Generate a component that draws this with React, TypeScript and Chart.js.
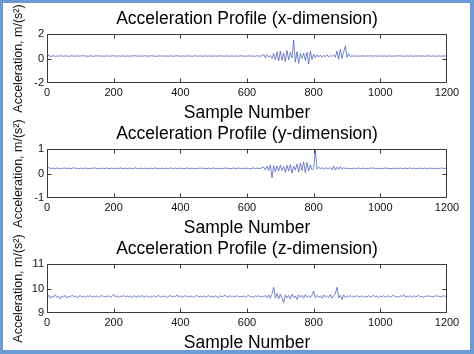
import React, { useEffect, useRef } from "react";
import { Chart, registerables } from "chart.js";

Chart.register(...registerables);

// ---------------- data ----------------
const SAMPLE_STEP = 5; // samples between stored readings
const X_TICKS = [0, 200, 400, 600, 800, 1000, 1200];

const TITLES = [
  "Acceleration Profile (x-dimension)",
  "Acceleration Profile (y-dimension)",
  "Acceleration Profile (z-dimension)",
];
const X_LABEL = "Sample Number";
const Y_LABEL = "Acceleration, m/(s\u00B2)";

const Y_RANGES = [
  { min: -2, max: 2, step: 2 },
  { min: -1, max: 1, step: 1 },
  { min: 9, max: 11, step: 1 },
];

const X_ACCEL = [
  0.05, 0.3, 0.14, 0.2, 0.22, 0.18, 0.21, 0.19, 0.23, 0.2,
  0.18, 0.22, 0.2, 0.17, 0.21, 0.23, 0.19, 0.2, 0.22, 0.18,
  0.21, 0.2, 0.24, 0.18, 0.2, 0.19, 0.22, 0.2, 0.17, 0.21,
  0.2, 0.23, 0.19, 0.21, 0.18, 0.2, 0.22, 0.2, 0.19, 0.21,
  0.23, 0.18, 0.2, 0.21, 0.19, 0.22, 0.2, 0.18, 0.21, 0.2,
  0.19, 0.22, 0.2, 0.24, 0.18, 0.2, 0.21, 0.19, 0.2, 0.22,
  0.18, 0.2, 0.21, 0.23, 0.19, 0.2, 0.17, 0.21, 0.2, 0.22,
  0.2, 0.19, 0.21, 0.18, 0.22, 0.2, 0.19, 0.21, 0.23, 0.2,
  0.18, 0.21, 0.2, 0.19, 0.22, 0.2, 0.21, 0.18, 0.2, 0.23,
  0.19, 0.2, 0.21, 0.18, 0.2, 0.22, 0.19, 0.21, 0.2, 0.18,
  0.22, 0.2, 0.19, 0.21, 0.2, 0.23, 0.18, 0.2, 0.21, 0.19,
  0.2, 0.22, 0.18, 0.21, 0.2, 0.19, 0.23, 0.2, 0.21, 0.18,
  0.2, 0.22, 0.19, 0.21, 0.2, 0.18, 0.22, 0.2, 0.19, 0.21,
  0.35, 0.05, 0.3, 0.1, 0.25, 0.0, 0.4, -0.1, 0.55, -0.2,
  0.6, -0.15, 0.45, -0.25, 0.65, -0.1, 0.5, 0.05, 1.5, -0.3,
  0.55, -0.4, 0.4, 0.0, 0.45, -0.15, 0.5, -0.45, 0.6, -0.1,
  0.35, 0.05, 0.3, 0.12, 0.28, 0.1, 0.26, 0.14, 0.3, 0.12,
  0.25, 0.15, 0.3, 0.1, 0.6, -0.05, 0.75, 0.0, 0.55, 1.0,
  0.1, 0.4, 0.15, 0.22, 0.19, 0.2, 0.21, 0.18, 0.2, 0.22,
  0.2, 0.19, 0.21, 0.2, 0.23, 0.18, 0.2, 0.21, 0.19, 0.2,
  0.22, 0.18, 0.21, 0.2, 0.19, 0.22, 0.2, 0.18, 0.21, 0.2,
  0.19, 0.23, 0.2, 0.21, 0.18, 0.2, 0.22, 0.19, 0.21, 0.2,
  0.18, 0.21, 0.2, 0.22, 0.19, 0.2, 0.21, 0.18, 0.2, 0.23,
  0.19, 0.2, 0.21, 0.2, 0.18, 0.22, 0.2, 0.19, 0.21, 0.2, 0.2,
];

const Y_ACCEL = [
  0.22, 0.25, 0.2, 0.22, 0.21, 0.19, 0.23, 0.21, 0.2, 0.22,
  0.21, 0.23, 0.19, 0.22, 0.2, 0.21, 0.24, 0.2, 0.22, 0.19,
  0.21, 0.22, 0.2, 0.23, 0.19, 0.21, 0.2, 0.22, 0.21, 0.23,
  0.2, 0.21, 0.19, 0.22, 0.21, 0.2, 0.23, 0.2, 0.21, 0.22,
  0.19, 0.21, 0.22, 0.2, 0.23, 0.21, 0.2, 0.22, 0.19, 0.21,
  0.22, 0.2, 0.21, 0.23, 0.2, 0.19, 0.22, 0.21, 0.2, 0.22,
  0.21, 0.19, 0.22, 0.2, 0.21, 0.23, 0.2, 0.21, 0.19, 0.22,
  0.2, 0.22, 0.21, 0.19, 0.23, 0.2, 0.21, 0.22, 0.2, 0.21,
  0.22, 0.19, 0.21, 0.2, 0.23, 0.21, 0.2, 0.22, 0.19, 0.21,
  0.2, 0.22, 0.21, 0.23, 0.19, 0.21, 0.2, 0.22, 0.21, 0.2,
  0.23, 0.2, 0.21, 0.19, 0.22, 0.2, 0.21, 0.23, 0.2, 0.22,
  0.19, 0.21, 0.22, 0.2, 0.21, 0.23, 0.19, 0.22, 0.2, 0.21,
  0.22, 0.2, 0.19, 0.21, 0.23, 0.2, 0.22, 0.21, 0.2, 0.24,
  0.26, 0.15, 0.3, 0.12, 0.35, -0.18, 0.32, 0.08, 0.3, 0.1,
  0.34, 0.12, 0.28, 0.05, 0.33, 0.1, 0.36, 0.02, 0.3, 0.14,
  0.38, 0.06, 0.42, 0.12, 0.48, 0.04, 0.45, 0.1, 0.35, 0.15,
  0.2, 0.95, 0.18, 0.26, 0.2, 0.24, 0.17, 0.23, 0.21, 0.2,
  0.24, 0.15, 0.3, 0.14, 0.26, 0.16, 0.28, 0.18, 0.24, 0.2,
  0.22, 0.2, 0.21, 0.19, 0.22, 0.21, 0.2, 0.23, 0.2, 0.21,
  0.22, 0.19, 0.21, 0.2, 0.22, 0.21, 0.23, 0.2, 0.21, 0.19,
  0.22, 0.2, 0.21, 0.23, 0.2, 0.22, 0.19, 0.21, 0.2, 0.22,
  0.21, 0.2, 0.23, 0.19, 0.21, 0.22, 0.2, 0.21, 0.23, 0.2,
  0.22, 0.19, 0.21, 0.2, 0.22, 0.21, 0.2, 0.23, 0.19, 0.21,
  0.22, 0.2, 0.21, 0.19, 0.22, 0.2, 0.21, 0.23, 0.2, 0.21, 0.22,
];

const Z_ACCEL = [
  9.62, 9.72, 9.6, 9.7, 9.65, 9.74, 9.63, 9.68, 9.58, 9.7,
  9.66, 9.72, 9.61, 9.69, 9.64, 9.73, 9.66, 9.7, 9.62, 9.68,
  9.71, 9.65, 9.69, 9.63, 9.7, 9.67, 9.72, 9.64, 9.69, 9.66,
  9.7, 9.63, 9.68, 9.72, 9.65, 9.69, 9.66, 9.71, 9.64, 9.68,
  9.76, 9.66, 9.7, 9.64, 9.69, 9.67, 9.72, 9.65, 9.7, 9.66,
  9.69, 9.63, 9.71, 9.67, 9.65, 9.7, 9.66, 9.72, 9.64, 9.68,
  9.7, 9.65, 9.69, 9.63, 9.71, 9.66, 9.68, 9.72, 9.64, 9.69,
  9.66, 9.7, 9.63, 9.68, 9.72, 9.65, 9.69, 9.67, 9.74, 9.66,
  9.7, 9.64, 9.68, 9.71, 9.65, 9.69, 9.66, 9.7, 9.63, 9.68,
  9.72, 9.65, 9.69, 9.66, 9.7, 9.64, 9.68, 9.71, 9.66, 9.69,
  9.65, 9.7, 9.67, 9.63, 9.71, 9.66, 9.69, 9.72, 9.65, 9.68,
  9.7, 9.64, 9.69, 9.67, 9.71, 9.65, 9.68, 9.66, 9.7, 9.63,
  9.69, 9.72, 9.66, 9.68, 9.64, 9.7, 9.67, 9.71, 9.65, 9.69,
  9.66, 9.72, 9.62, 9.74, 9.6, 9.78, 10.05, 9.62, 9.8, 9.58,
  9.76, 9.6, 9.42, 9.74, 9.62, 9.72, 9.58, 9.77, 9.63, 9.7,
  9.55, 9.74, 9.64, 9.72, 9.6, 9.75, 9.65, 9.7, 9.62, 9.73,
  9.9, 9.62, 9.72, 9.64, 9.7, 9.6, 9.74, 9.65, 9.71, 9.63,
  9.75, 9.6, 9.7, 9.78, 10.05, 9.62, 9.72, 9.55, 9.74, 9.63,
  9.7, 9.66, 9.72, 9.64, 9.69, 9.67, 9.71, 9.65, 9.68, 9.7,
  9.64, 9.69, 9.66, 9.71, 9.65, 9.68, 9.72, 9.66, 9.7, 9.63,
  9.69, 9.66, 9.71, 9.64, 9.68, 9.7, 9.65, 9.69, 9.72, 9.66,
  9.68, 9.64, 9.7, 9.67, 9.75, 9.65, 9.69, 9.66, 9.71, 9.64,
  9.7, 9.66, 9.68, 9.72, 9.65, 9.69, 9.63, 9.7, 9.67, 9.71,
  9.66, 9.69, 9.64, 9.72, 9.67, 9.7, 9.65, 9.68, 9.71, 9.66, 9.69,
];

const SERIES = [X_ACCEL, Y_ACCEL, Z_ACCEL];

// ---------------- styling ----------------
const FONT = "'Liberation Sans', Arial, Helvetica, sans-serif";
const LINE_COLOR = "#3a4fb8";
const AXIS_COLOR = "#3a3a3a";
const CANVAS_W = 474;
const CANVAS_H = 125;
const PANEL_STRIDE = 115;

const plainNumber = (v: any) => String(v);

const boxPlugin = {
  id: "matlabBox",
  afterDraw(chart: any) {
    const { ctx, chartArea } = chart;
    const xs = chart.scales.x;
    const ys = chart.scales.y;
    const l = Math.round(chartArea.left) + 0.5;
    const r = Math.round(chartArea.right) - 0.5;
    const t = Math.round(chartArea.top) + 0.5;
    const b = Math.round(chartArea.bottom) - 0.5;
    ctx.save();
    ctx.strokeStyle = AXIS_COLOR;
    ctx.lineWidth = 1;
    ctx.strokeRect(l, t, r - l, b - t);
    const len = 4;
    ctx.beginPath();
    xs.ticks.forEach((tk: any) => {
      const px = Math.round(xs.getPixelForValue(tk.value)) + 0.5;
      if (px <= l + 1 || px >= r - 1) return;
      ctx.moveTo(px, b);
      ctx.lineTo(px, b - len);
      ctx.moveTo(px, t);
      ctx.lineTo(px, t + len);
    });
    ys.ticks.forEach((tk: any) => {
      const py = Math.round(ys.getPixelForValue(tk.value)) + 0.5;
      if (py <= t + 1 || py >= b - 1) return;
      ctx.moveTo(l, py);
      ctx.lineTo(l + len, py);
      ctx.moveTo(r, py);
      ctx.lineTo(r - len, py);
    });
    ctx.stroke();
    ctx.restore();
  },
};

function Panel({ index }: { index: number }) {
  const ref = useRef<HTMLCanvasElement | null>(null);
  useEffect(() => {
    if (!ref.current) return;
    const range = Y_RANGES[index];
    const values = SERIES[index];
    const points = values.map((v, i) => ({ x: i * SAMPLE_STEP, y: v }));
    const chart = new Chart(ref.current, {
      type: "line",
      data: {
        datasets: [
          {
            data: points,
            borderColor: LINE_COLOR,
            borderWidth: 0.7,
            pointRadius: 0,
            tension: 0,
            fill: false,
          },
        ],
      },
      options: {
        animation: false,
        responsive: false,
        devicePixelRatio: 1,
        layout: { padding: { left: 0, right: 27, top: 0, bottom: 0 } },
        plugins: {
          legend: { display: false },
          tooltip: { enabled: false },
          title: {
            display: true,
            fullSize: false,
            text: TITLES[index],
            color: "#000",
            font: { family: FONT, size: 17.5, weight: "normal" },
            padding: { top: 9, bottom: 4 },
          },
        },
        scales: {
          x: {
            type: "linear",
            min: X_TICKS[0],
            max: X_TICKS[X_TICKS.length - 1],
            afterBuildTicks: (s: any) => {
              s.ticks = X_TICKS.map((v) => ({ value: v }));
            },
            ticks: {
              color: "#111",
              font: { family: FONT, size: 11 },
              padding: 3,
              maxRotation: 0,
              autoSkip: false,
              callback: plainNumber,
            },
            grid: { display: false, drawTicks: false },
            border: { display: false },
            title: {
              display: true,
              text: X_LABEL,
              color: "#000",
              font: { family: FONT, size: 17.5 },
              padding: { top: 0, bottom: 1 },
            },
            afterFit: (s: any) => {
              s.height = 42;
            },
          },
          y: {
            min: range.min,
            max: range.max,
            ticks: {
              stepSize: range.step,
              color: "#111",
              font: { family: FONT, size: 11 },
              padding: 3,
              callback: plainNumber,
            },
            grid: { display: false, drawTicks: false },
            border: { display: false },
            title: {
              display: true,
              text: Y_LABEL,
              color: "#111",
              font: { family: FONT, size: 12.5 },
              padding: { top: 11, bottom: 0 },
            },
            afterFit: (s: any) => {
              s.width = 47;
            },
          },
        },
      },
      plugins: [boxPlugin],
    } as any);
    return () => chart.destroy();
  }, [index]);
  return (
    <canvas
      ref={ref}
      width={CANVAS_W}
      height={CANVAS_H}
      style={{
        position: "absolute",
        left: 0,
        top: index * PANEL_STRIDE,
        width: CANVAS_W,
        height: CANVAS_H,
      }}
    />
  );
}

export default function App() {
  return (
    <div
      style={{
        position: "fixed",
        left: 0,
        top: 0,
        width: 474,
        height: 354,
        overflow: "hidden",
        background: "#ffffff",
      }}
    >
      {[0, 1, 2].map((i) => (
        <Panel key={i} index={i} />
      ))}
      <div
        style={{
          position: "absolute",
          left: 0,
          top: 0,
          width: 474,
          height: 354,
          boxSizing: "border-box",
          borderStyle: "solid",
          borderColor: "#6a9bd6",
          borderWidth: "3px 4px 4px 3px",
          pointerEvents: "none",
        }}
      />
    </div>
  );
}
